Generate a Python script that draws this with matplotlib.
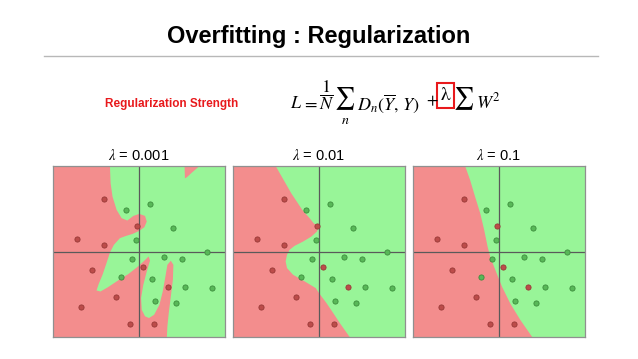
import matplotlib
matplotlib.use("Agg")
import matplotlib.pyplot as plt
from matplotlib.patches import Rectangle

plt.rcParams['font.family'] = ['Liberation Sans', 'DejaVu Sans']
plt.rcParams['mathtext.fontset'] = 'stix'

# training points (same in every panel), data range -5..5
red_x = [-2.02, -3.60, -2.02, -0.10, -2.76, 0.21, -1.34, -3.39, -0.53, 0.89, 1.71]
red_y = [3.09, 0.76, 0.37, 1.48, -1.07, -0.88, -2.65, -3.23, -4.22, -4.22, -2.08]
green_x = [-0.74, 0.66, 2.00, -0.18, 3.95, -0.43, 1.48, 2.51, -1.07, 0.74, 2.70, 4.26, 0.95, 2.14]
green_y = [2.43, 2.78, 1.36, 0.66, -0.02, -0.41, -0.31, -0.41, -1.48, -1.61, -2.06, -2.12, -2.90, -3.04]

lambdas = ["0.001", "0.01", "0.1"]

# red decision region outlines (x list, y list)
p1_x = [-5, -1.69, -1.65, -1.54, -1.30, -1.01, -0.68, -0.33, 0.02, 0.35, 0.45, 0.31, 0.02, -0.37,
        -0.76, -1.11, -1.46, -1.69, -1.89, -2.12, -2.34, -2.47, -2.24, -1.79, -1.21, -0.62, -0.10,
        0.31, 0.56, 0.64, 0.45, 0.25, 0.12, 0.16, 0.35, 0.58, 0.88, 1.19, 1.38, 1.52, 1.65, 1.85,
        2.00, 1.97, 1.85, 1.73, 1.65, 1.62, -5]
p1_y = [5, 5, 3.99, 3.21, 2.43, 1.95, 1.81, 2.08, 2.20, 2.08, 1.75, 1.42, 1.21, 1.03,
        0.91, 0.78, 0.39, -0.06, -0.68, -1.36, -1.89, -2.28, -2.34, -2.08, -1.69, -1.32, -0.91,
        -0.54, -0.29, -0.53, -1.17, -1.95, -2.72, -3.41, -3.79, -3.89, -3.70, -3.11, -2.34, -1.56, -0.78, -0.54,
        -0.78, -1.65, -2.63, -3.60, -4.38, -5, -5]
p1b_x = [2.65, 3.52, 3.07, 2.78, 2.67]
p1b_y = [5, 5, 4.61, 4.34, 4.28]

p2_x = [-5, -2.52, -1.61, -0.97, -0.54, -0.31, 0.0, -0.12, -0.45, -0.93, -1.42, -1.71, -1.86,
        -1.94, -1.86, -1.51, -0.83, -0.19, 0.0, 0.43, 0.82, 1.20, 1.78, -5]
p2_y = [5, 5, 3.40, 2.43, 1.94, 1.65, 1.46, 1.17, 0.87, 0.58, 0.33, 0.10, -0.19,
        -0.58, -0.97, -1.36, -1.75, -2.14, -2.43, -3.01, -3.59, -4.17, -5, -5]

p3_x = [-5, -1.97, -1.68, -1.39, -1.09, -0.86, -0.66, -0.51, -0.21, 0.18, 0.66, 1.25, 1.93, -5]
p3_y = [5, 5, 4.18, 3.20, 2.23, 1.25, 0.27, -0.31, -1.09, -2.07, -3.05, -4.02, -5, -5]

regions = [[(p1_x, p1_y), (p1b_x, p1b_y)], [(p2_x, p2_y)], [(p3_x, p3_y)]]

PINK = "#f38d8d"
LGREEN = "#98f598"
RED = "#e8191c"

W, H = 638, 359
fig = plt.figure(figsize=(6.38, 3.59), dpi=100)

def fx(px):
    return px / W

def fy(py):
    return 1 - py / H

fig.text(0.5, fy(37), "Overfitting : Regularization", ha="center", va="center",
         fontsize=17, fontweight="bold", color="black")
fig.add_artist(plt.Line2D([fx(44), fx(598)], [fy(56), fy(56)], color="#b8b8b8", lw=1))

fig.text(fx(105), fy(107), "Regularization Strength", ha="left", va="baseline",
         fontsize=8.5, fontweight="bold", color=RED)

# loss formula, built piece by piece
fs = 13
fig.text(fx(296.5), fy(103.5), r"$L$", ha="center", va="center", fontsize=fs)
fig.text(fx(310), fy(103.5), r"$=$", ha="center", va="center", fontsize=fs)
fig.text(fx(326.5), fy(95.5), r"$\dfrac{1}{N}$", ha="center", va="center", fontsize=fs)
fig.text(fx(345), fy(99), r"$\sum$", ha="center", va="center", fontsize=16)
fig.text(fx(345.5), fy(120), r"$n$", ha="center", va="center", fontsize=10)
fig.text(fx(388), fy(103.5), r"$D_n(\overline{Y},\, Y)$", ha="center", va="center", fontsize=fs)
fig.text(fx(432.5), fy(101), r"$+$", ha="center", va="center", fontsize=12)
fig.text(fx(445.5), fy(95.5), r"$\mathrm{\lambda}$", ha="center", va="center", fontsize=14)
fig.add_artist(Rectangle((fx(437), fy(108)), 17 / W, 25 / H, transform=fig.transFigure,
                         fill=False, ec=RED, lw=1.5))
fig.text(fx(464), fy(99), r"$\sum$", ha="center", va="center", fontsize=16)
fig.text(fx(476), fy(108), r"$W^2$", ha="left", va="baseline", fontsize=fs)

lefts = [53, 233, 413]
for i in range(3):
    ax = fig.add_axes([fx(lefts[i]), fy(337), 172 / W, 171 / H])
    ax.set_xlim(-5, 5)
    ax.set_ylim(-5, 5)
    ax.set_facecolor(LGREEN)
    for xs, ys in regions[i]:
        ax.fill(xs, ys, color=PINK, lw=0)
    ax.axhline(0, color="#5a5a5a", lw=0.9)
    ax.axvline(0, color="#5a5a5a", lw=0.9)
    ax.scatter(red_x, red_y, s=14, c="#bc4c4a", edgecolors="#983836", linewidths=0.6, zorder=3)
    ax.scatter(green_x, green_y, s=14, c="#58b858", edgecolors="#3c8c3c", linewidths=0.6, zorder=3)
    ax.set_xticks([])
    ax.set_yticks([])
    for s in ax.spines.values():
        s.set_color("#909090")
        s.set_linewidth(0.9)
    ax.set_title(r"$\lambda$" + " = " + lambdas[i], fontsize=10.5, pad=4)

fig.savefig("out.png", dpi=100)
